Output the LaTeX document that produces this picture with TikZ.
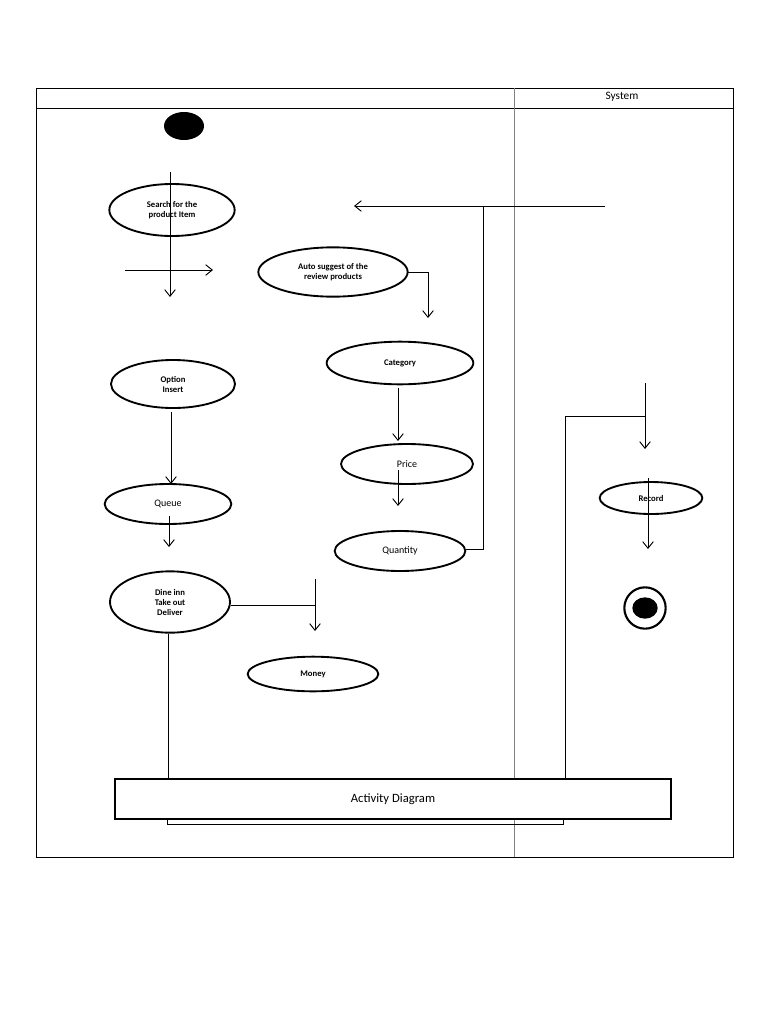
\documentclass[tikz,border=0pt]{standalone}
\usepackage{fontspec}
\setmainfont{Carlito}
\usetikzlibrary{arrows.meta,shapes.geometric}
\begin{document}
\begin{tikzpicture}[x=0.75pt,y=-0.75pt,
  el/.style={draw,line width=1.4pt,ellipse,inner sep=0pt,font=\fontsize{6.5}{7.5}\selectfont\bfseries,align=center},
  ln/.style={draw,line width=0.7pt},
  ar/.style={ln,-{Straight Barb[length=5pt,width=8pt]}}]
\useasboundingbox (0,0) rectangle (768,1024);
\draw[line width=0.6pt] (36,88) rectangle (733,857);
\draw[line width=0.6pt] (36,108) -- (733,108);
\draw[line width=0.6pt,gray] (514,88) -- (514,857);
\node[font=\fontsize{8.5}{10}\selectfont] (sys) at (622,97) {System};
\node[fill=black,ellipse,minimum width=30pt,minimum height=21pt] (start) at (184,126) {};
\node[el,minimum width=94pt,minimum height=39pt] (search) at (172,210) {Search for the\\product Item};
\coordinate (s1) at (170,172); \coordinate (s2) at (170,297);
\draw[ar] (s1) -- (s2);
\coordinate (h1) at (125,270); \coordinate (h2) at (213,270);
\draw[ar] (h1) -- (h2);
\node[el,minimum width=112pt,minimum height=37pt] (auto) at (333,272) {Auto suggest of the\\review products};
\coordinate (a1) at (407,272); \coordinate (a2) at (428,272); \coordinate (a3) at (428,318);
\draw[ar] (a1) -- (a2) -- (a3);
\coordinate (t1) at (605,206); \coordinate (t2) at (354,206); \coordinate (t3) at (483,206); \coordinate (t4) at (483,549);
\draw[ar] (t1) -- (t2);
\node[el,minimum width=110pt,minimum height=32pt] (cat) at (400,363) {Category};
\coordinate (c1) at (398,388); \coordinate (c2) at (398,441);
\draw[ar] (c1) -- (c2);
\node[el,minimum width=99pt,minimum height=30pt,font=\fontsize{7.5}{9}\selectfont] (price) at (407,464) {Price};
\coordinate (p1) at (398,470); \coordinate (p2) at (398,506);
\draw[ar] (p1) -- (p2);
\node[el,minimum width=98pt,minimum height=30pt,font=\fontsize{7.5}{9}\selectfont] (qty) at (400,551) {Quantity};
\coordinate (qe) at (466,549);
\draw[ln] (qe) -- (t4) -- (t3);
\node[el,minimum width=93pt,minimum height=36pt] (opt) at (173,384) {Option\\Insert};
\coordinate (o1) at (171,412); \coordinate (o2) at (171,484);
\draw[ar] (o1) -- (o2);
\node[el,minimum width=95pt,minimum height=30pt,font=\fontsize{7.5}{9}\selectfont] (queue) at (168,504) {Queue};
\coordinate (q1) at (169,516); \coordinate (q2) at (169,547);
\draw[ar] (q1) -- (q2);
\node[el,minimum width=90pt,minimum height=46pt] (dine) at (170,602) {Dine inn\\Take out\\Deliver};
\coordinate (d0) at (231,605); \coordinate (d1) at (315,605); \coordinate (d2) at (315,579); \coordinate (d3) at (315,631);
\draw[ln] (d0) -- (d1);
\draw[ar] (d2) -- (d3);
\node[el,minimum width=98pt,minimum height=26pt] (money) at (313,674) {Money};
\coordinate (b0) at (168,634); \coordinate (b1) at (168,779); \coordinate (b2) at (167,819); \coordinate (b3) at (167,824); \coordinate (b4) at (563,824); \coordinate (b5) at (563,819);
\draw[ln] (b0) -- (b1);
\draw[ln] (b2) -- (b3) -- (b4) -- (b5);
\coordinate (r1) at (565,779); \coordinate (r2) at (565,416); \coordinate (r3) at (645,416); \coordinate (r4) at (645,383); \coordinate (r5) at (645,449);
\draw[ln] (r1) -- (r2) -- (r3);
\draw[ar] (r4) -- (r5);
\node[draw,fill=white,line width=1.6pt,minimum width=417pt,minimum height=30pt,inner sep=0pt,font=\fontsize{9.5}{11}\selectfont] (box) at (393,799) {Activity Diagram};
\node[el,minimum width=77pt,minimum height=24pt] (rec) at (651,498) {Record};
\coordinate (e1) at (648,478); \coordinate (e2) at (648,549);
\draw[ar] (e1) -- (e2);
\node[draw,line width=1.6pt,circle,minimum size=31pt,inner sep=0pt] (end) at (645,608) {};
\node[fill=black,ellipse,minimum width=19pt,minimum height=16pt,inner sep=0pt] (endi) at (end) {};
\end{tikzpicture}
\end{document}
